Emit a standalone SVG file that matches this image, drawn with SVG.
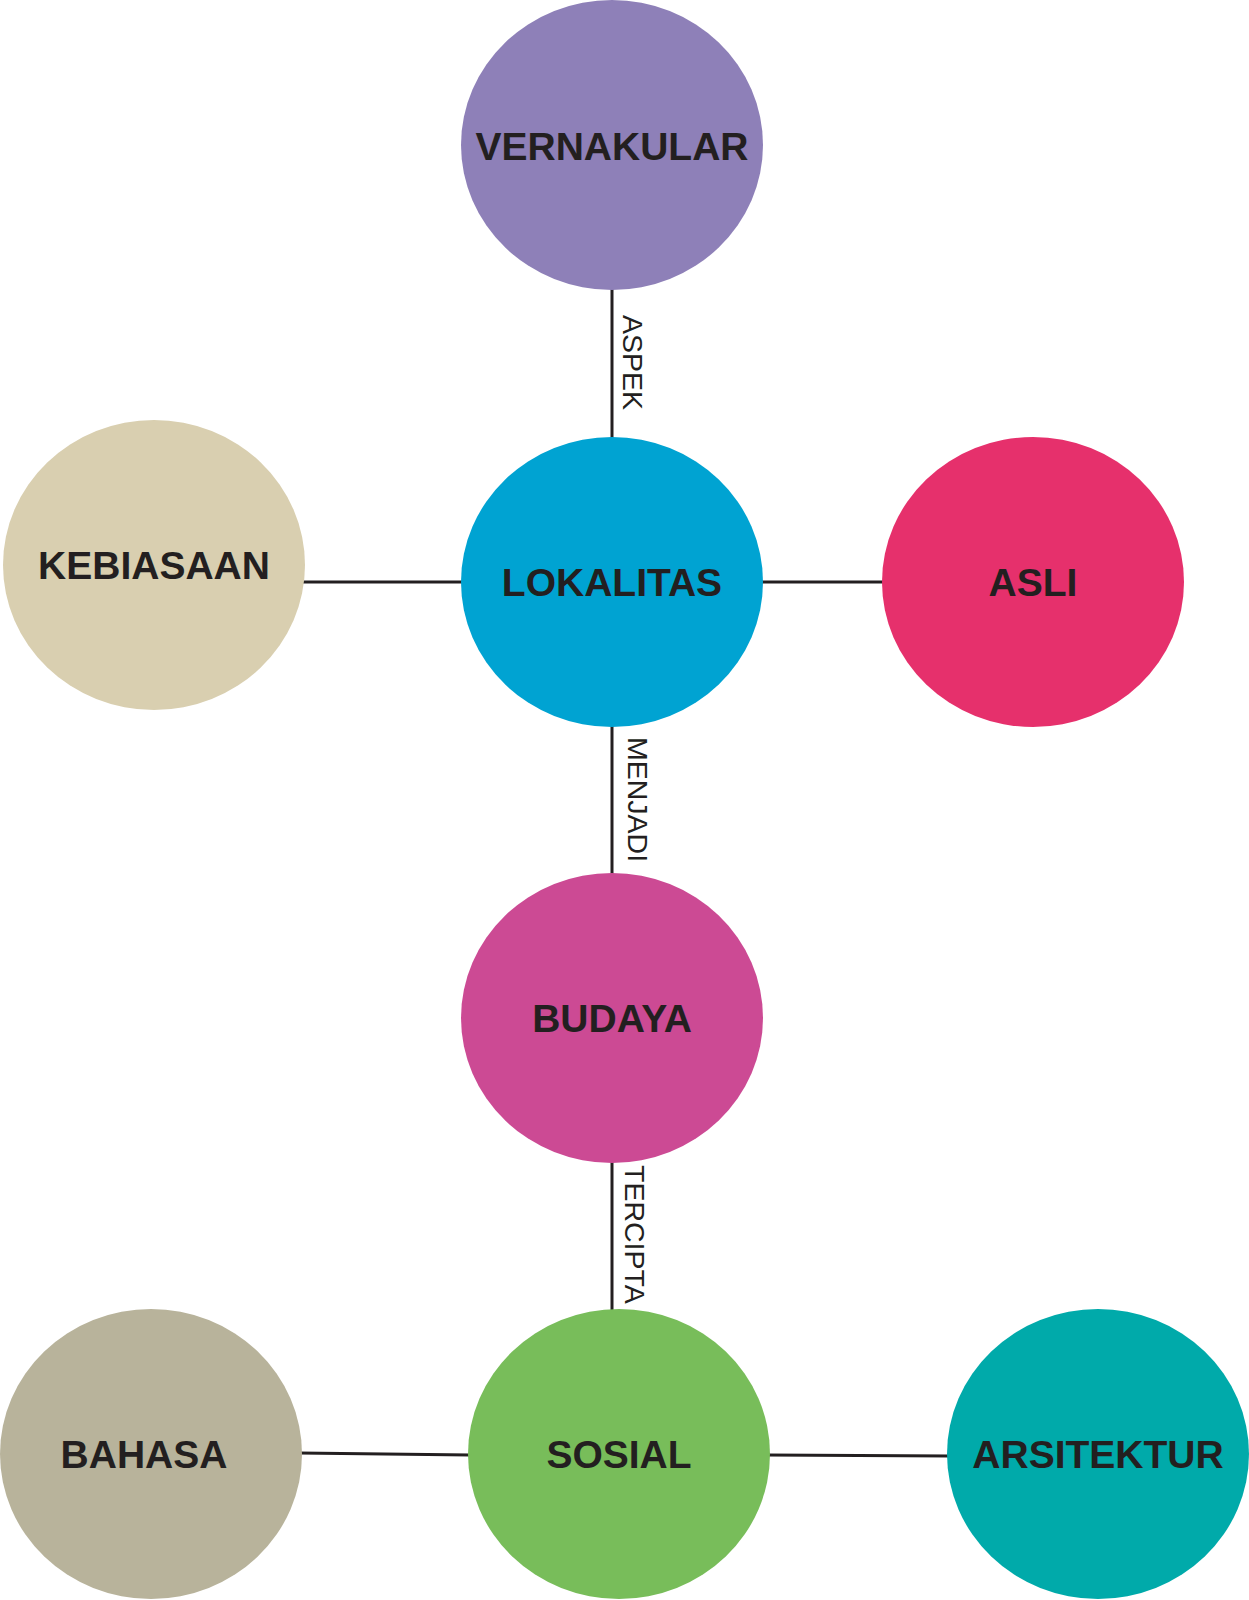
<svg xmlns="http://www.w3.org/2000/svg" width="1249" height="1600" viewBox="0 0 1249 1600">
<style>
.lbl{font-family:"Liberation Sans",Arial,sans-serif;font-weight:bold;font-size:39px;fill:#231f20;text-anchor:middle}
.edge{stroke:#231f20;stroke-width:3;fill:none}
.elbl{font-family:"Liberation Sans",Arial,sans-serif;font-size:28.5px;fill:#231f20}
</style>
<rect width="1249" height="1600" fill="#ffffff"/>
<g id="connectors">
<line class="edge" x1="612" y1="289" x2="612" y2="440"/>
<line class="edge" x1="612" y1="724" x2="612" y2="875"/>
<line class="edge" x1="612" y1="1160" x2="612" y2="1311"/>
<line class="edge" x1="302" y1="582" x2="464" y2="582"/>
<line class="edge" x1="760" y1="582" x2="884" y2="582"/>
<line class="edge" x1="299" y1="1453" x2="470" y2="1455"/>
<line class="edge" x1="767" y1="1455" x2="950" y2="1456"/>
<text class="elbl" transform="translate(623,315) rotate(90)">ASPEK</text>
<text class="elbl" transform="translate(628,737) rotate(90)">MENJADI</text>
<text class="elbl" transform="translate(625,1165) rotate(90)">TERCIPTA</text>
</g>
<g id="vernakular"><ellipse cx="612" cy="145" rx="151" ry="145" fill="#8e80b8"/><text class="lbl" x="612" y="160">VERNAKULAR</text></g>
<g id="lokalitas"><ellipse cx="612" cy="582" rx="151" ry="145" fill="#00a3d2"/><text class="lbl" x="612" y="596">LOKALITAS</text></g>
<g id="kebiasaan"><ellipse cx="154" cy="565" rx="151" ry="145" fill="#d9cfb0"/><text class="lbl" x="154" y="579">KEBIASAAN</text></g>
<g id="asli"><ellipse cx="1033" cy="582" rx="151" ry="145" fill="#e6306c"/><text class="lbl" x="1033" y="596">ASLI</text></g>
<g id="budaya"><ellipse cx="612" cy="1018" rx="151" ry="145" fill="#cc4a94"/><text class="lbl" x="612" y="1032">BUDAYA</text></g>
<g id="sosial"><ellipse cx="619" cy="1454" rx="151" ry="145" fill="#78bd5a"/><text class="lbl" x="619" y="1468">SOSIAL</text></g>
<g id="bahasa"><ellipse cx="151" cy="1454" rx="151" ry="145" fill="#b8b39b"/><text class="lbl" x="144" y="1468">BAHASA</text></g>
<g id="arsitektur"><ellipse cx="1098" cy="1454" rx="151" ry="145" fill="#00aaaa"/><text class="lbl" x="1098" y="1468">ARSITEKTUR</text></g>
</svg>
